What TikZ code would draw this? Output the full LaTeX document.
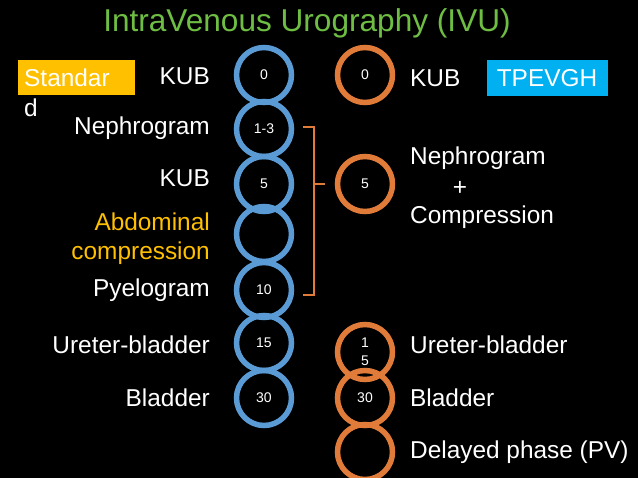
\documentclass[tikz,border=0pt]{standalone}
\usepackage{fontspec}
\setmainfont{Liberation Sans}
\definecolor{ivublue}{HTML}{5B9BD5}
\definecolor{ivuorange}{HTML}{E07B39}
\definecolor{ivugreen}{HTML}{6EBE44}
\definecolor{ivuyellow}{HTML}{FFC000}
\definecolor{ivucyan}{HTML}{00B0F0}
\begin{document}
\begin{tikzpicture}[x=1pt,y=-1pt]
  \tikzstyle{phase}=[circle, line width=5.5pt, minimum size=55pt, inner sep=0pt, text=white, font=\fontsize{14}{14}\selectfont]
  \tikzstyle{lbl}=[text=white, font=\fontsize{24.4}{29}\selectfont, inner sep=0pt]
  \fill[black] (0,0) rectangle (638,478);
  \useasboundingbox (0,0) rectangle (638,478);
  % Title
  \node[text=ivugreen, font=\fontsize{31.6}{34}\selectfont] (title) at (307,23) {IntraVenous Urography (IVU)};
  % Tags
  \fill[ivuyellow] (18,60) rectangle (135,95);
  \node[lbl, anchor=west] (std) at (24,78) {Standar};
  \node[lbl, anchor=west] (stdd) at (24,108) {d};
  \fill[ivucyan] (487,60) rectangle (608,96);
  \node[lbl] (tpe) at (547,78) {TPEVGH};
  % Standard series
  \node[phase, draw=ivublue] (b1) at (264,75) {0};
  \node[phase, draw=ivublue] (b2) at (264,129) {1-3};
  \node[phase, draw=ivublue] (b3) at (264,184) {5};
  \node[phase, draw=ivublue] (b4) at (264,234) {};
  \node[phase, draw=ivublue] (b5) at (264,290) {10};
  \node[phase, draw=ivublue] (b6) at (264,343) {15};
  \node[phase, draw=ivublue] (b7) at (264,398) {30};
  % TPEVGH series
  \node[phase, draw=ivuorange] (o1) at (365,75) {0};
  \node[phase, draw=ivuorange] (o2) at (365,184) {5};
  \node[phase, draw=ivuorange, align=center, font=\fontsize{14}{18}\selectfont] (o3) at (365,352) {1\\5};
  \node[phase, draw=ivuorange] (o4) at (365,398) {30};
  \node[phase, draw=ivuorange] (o5) at (365,452) {};
  % Left labels
  \node[lbl, anchor=east] (l1) at (210,76) {KUB};
  \node[lbl, anchor=east] (l2) at (210,128) {Nephrogram};
  \node[lbl, anchor=east] (l3) at (210,178) {KUB};
  \node[lbl, anchor=east, align=right, text=ivuyellow] (l4) at (210,239) {Abdominal\\compression};
  \node[lbl, anchor=east] (l5) at (210,290) {Pyelogram};
  \node[lbl, anchor=east] (l6) at (210,345) {Ureter-bladder};
  \node[lbl, anchor=east] (l7) at (210,398) {Bladder};
  % Right labels
  \node[lbl, anchor=west] (r1) at (410,78) {KUB};
  \node[lbl, anchor=west] (r2) at (410,158) {Nephrogram};
  \node[lbl] (r3) at (460,188) {+};
  \node[lbl, anchor=west] (r4) at (410,217) {Compression};
  \node[lbl, anchor=west] (r5) at (410,345) {Ureter-bladder};
  \node[lbl, anchor=west] (r6) at (410,398) {Bladder};
  \node[lbl, anchor=west] (r7) at (410,452) {Delayed phase (PV)};
  % Bracket
  \coordinate (bt) at (303,127);
  \coordinate (bb) at (303,295);
  \coordinate (bm) at (325,184);
  \draw[ivuorange, line width=1.2pt] (bt) -- ++(11,0) |- (bb);
  \draw[ivuorange, line width=1.2pt] (314,184) -- (bm);
\end{tikzpicture}
\end{document}
